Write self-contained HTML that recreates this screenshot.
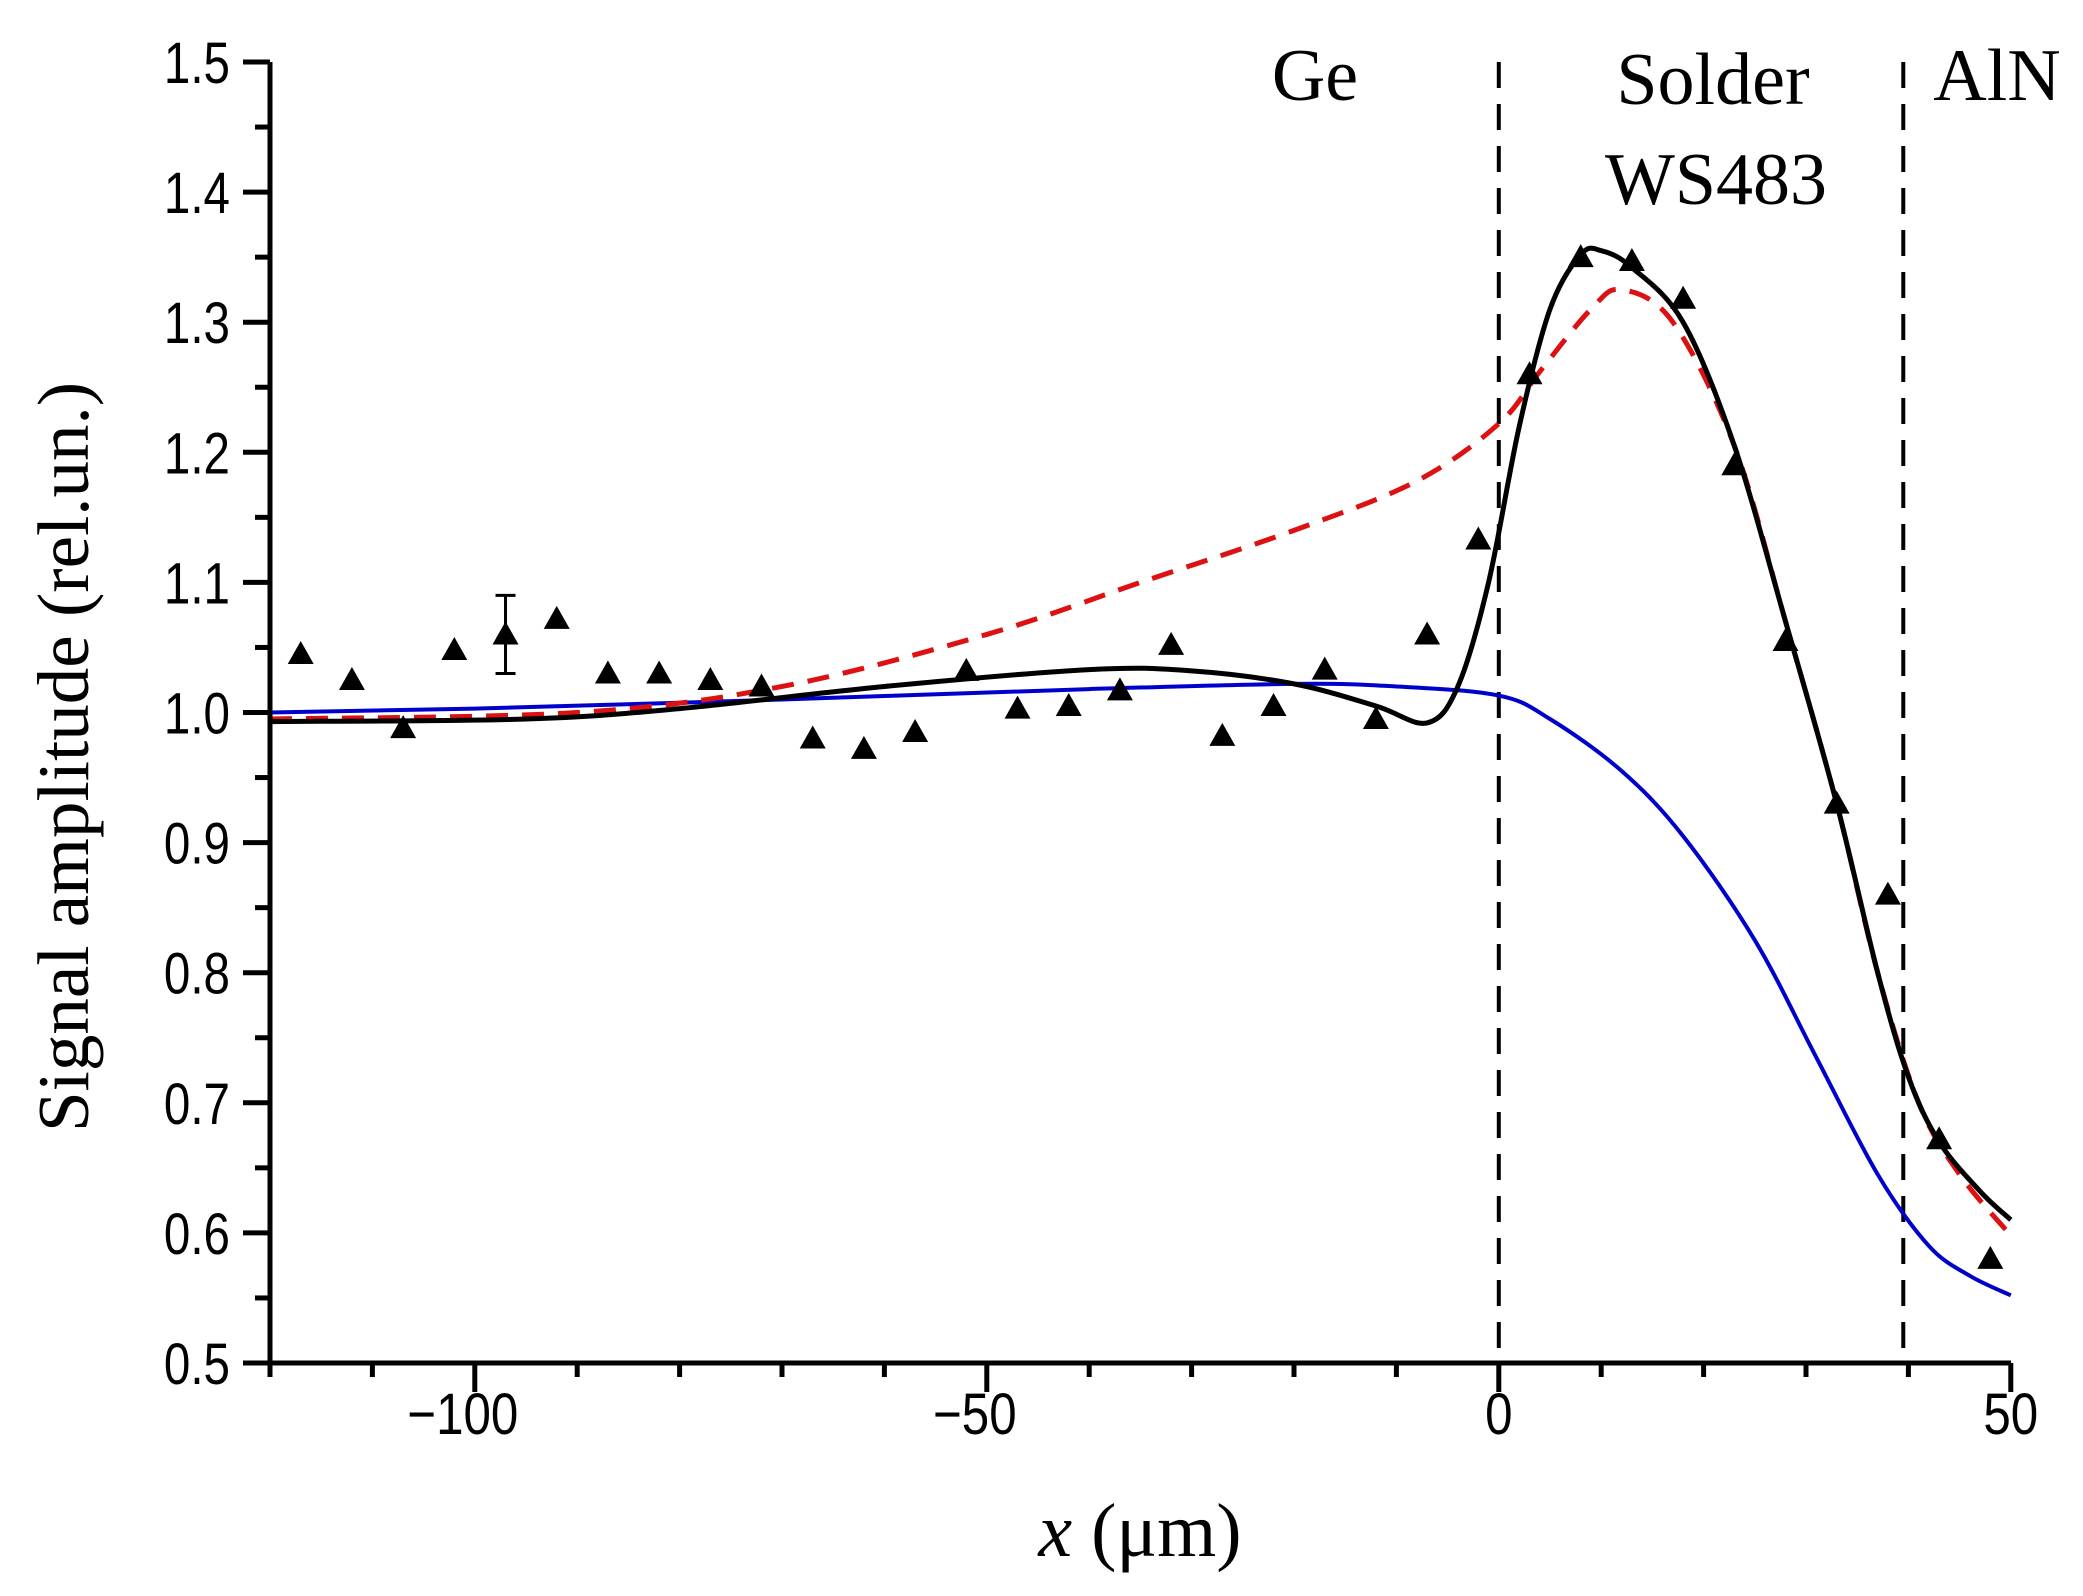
<!DOCTYPE html>
<html><head><meta charset="utf-8"><style>html,body{margin:0;padding:0;background:#fff}svg{display:block}</style></head>
<body>
<svg id="s" width="2083" height="1596" xmlns="http://www.w3.org/2000/svg">
<rect width="2083" height="1596" fill="#fff"/>
<g id="g"></g>
<text x="1315" y="100" font-family="Liberation Serif, serif" font-size="74" text-anchor="middle">Ge</text>
<text x="1713" y="104" font-family="Liberation Serif, serif" font-size="74" text-anchor="middle">Solder</text>
<text x="1716" y="204" font-family="Liberation Serif, serif" font-size="74" text-anchor="middle">WS483</text>
<text x="1997" y="100" font-family="Liberation Serif, serif" font-size="74" text-anchor="middle">AlN</text>
<text transform="translate(88,757) rotate(-90)" font-family="Liberation Serif, serif" font-size="73" text-anchor="middle">Signal amplitude (rel.un.)</text>
<text x="1140" y="1556" font-family="Liberation Serif, serif" font-size="76" text-anchor="middle"><tspan font-style="italic">x</tspan> (μm)</text>
</svg>
<script>
var X=function(x){return 270+(x+120)*10.24},Y=function(y){return 62+(1.5-y)*1301};
var g=document.getElementById('g'),h='';
function cr(pts){pts=pts.map(function(p){return [X(p[0]),Y(p[1])]});var d='M'+pts[0][0]+','+pts[0][1];
for(var i=0;i<pts.length-1;i++){var p0=pts[i-1]||pts[i],p1=pts[i],p2=pts[i+1],p3=pts[i+2]||p2;
d+='C'+(p1[0]+(p2[0]-p0[0])/6)+','+(p1[1]+(p2[1]-p0[1])/6)+' '+(p2[0]-(p3[0]-p1[0])/6)+','+(p2[1]-(p3[1]-p1[1])/6)+' '+p2[0]+','+p2[1];}return d;}
[0,39.5].forEach(function(v){h+='<line x1="'+X(v)+'" y1="62" x2="'+X(v)+'" y2="1363" stroke="#000" stroke-width="4" stroke-dasharray="26,16"/>';});
var blue=[[-120,1.0],[-100,1.003],[-70,1.01],[-40,1.018],[-20,1.022],[-10,1.02],[0,1.013],[5,0.995],[12,0.955],[18,0.905],[25,0.825],[31,0.735],[37,0.645],[42,0.59],[46,0.567],[50,0.552]];
var red=[[-120,0.995],[-90,1.0],[-70,1.02],[-50,1.06],[-35,1.1],[-20,1.14],[-8,1.178],[0,1.222],[4,1.262],[9,1.31],[12,1.325],[17,1.3],[23,1.205],[28,1.07],[33,0.93],[37,0.8],[41,0.7],[45,0.645],[50,0.598]];
var blk=[[-120,0.993],[-95,0.995],[-80,1.003],[-60,1.02],[-40,1.033],[-30,1.032],[-20,1.022],[-12,1.005],[-7,0.992],[-4,1.02],[-1,1.1],[2,1.22],[5,1.31],[8,1.352],[10,1.355],[13,1.342],[18,1.3],[23,1.205],[28,1.07],[33,0.93],[37,0.8],[40,0.72],[43,0.67],[47,0.632],[50,0.61]];
h+='<path d="'+cr(blue)+'" fill="none" stroke="#0000cc" stroke-width="4"/>';
h+='<path d="'+cr(red)+'" fill="none" stroke="#dd1111" stroke-width="5" stroke-dasharray="22,14"/>';
h+='<path d="'+cr(blk)+'" fill="none" stroke="#000" stroke-width="5"/>';
var tri=[[-117,1.045],[-112,1.025],[-107,0.988],[-102,1.048],[-97,1.06],[-92,1.072],[-87,1.03],[-82,1.03],[-77,1.025],[-72,1.02],[-67,0.98],[-62,0.972],[-57,0.985],[-52,1.032],[-47,1.003],[-42,1.005],[-37,1.017],[-32,1.052],[-27,0.982],[-22,1.005],[-17,1.033],[-12,0.995],[-7,1.06],[-2,1.133],[3,1.26],[8,1.35],[13,1.347],[18,1.318],[23,1.19],[28,1.055],[33,0.93],[38,0.86],[43,0.672],[48,0.58]];
tri.forEach(function(p){var x=X(p[0]),y=Y(p[1]);h+='<polygon points="'+x+','+(y-13)+' '+(x-13)+','+(y+10)+' '+(x+13)+','+(y+10)+'" fill="#000"/>';});
var ex=X(-97);h+='<path d="M'+ex+','+Y(1.09)+'V'+Y(1.03)+'M'+(ex-10)+','+Y(1.09)+'h20M'+(ex-10)+','+Y(1.03)+'h20" stroke="#000" stroke-width="3" fill="none"/>';
h+='<path d="M270,62V1363H2011" stroke="#000" stroke-width="5" fill="none"/>';
for(var i=0;i<=20;i++){var v=0.5+i*0.05,y=Y(v),maj=i%2==0;h+='<line x1="'+(maj?243:255)+'" y1="'+y+'" x2="270" y2="'+y+'" stroke="#000" stroke-width="5"/>';
if(maj)h+='<text transform="translate(230,'+(y+21)+') scale(0.82,1)" font-family="Liberation Sans, sans-serif" font-size="58" text-anchor="end">'+v.toFixed(1)+'</text>';}
for(var x=-120;x<=50;x+=10){var px=X(x),maj=x%50==0;h+='<line x1="'+px+'" y1="1363" x2="'+px+'" y2="'+(maj?1392:1377)+'" stroke="#000" stroke-width="5"/>';
if(maj)h+='<text transform="translate('+(px+(x<0?-12:0))+',1434) scale(0.85,1)" font-family="Liberation Sans, sans-serif" font-size="58" text-anchor="middle">'+(x<0?'\u2212':'')+Math.abs(x)+'</text>';}
g.innerHTML=h;
</script>
</body></html>
